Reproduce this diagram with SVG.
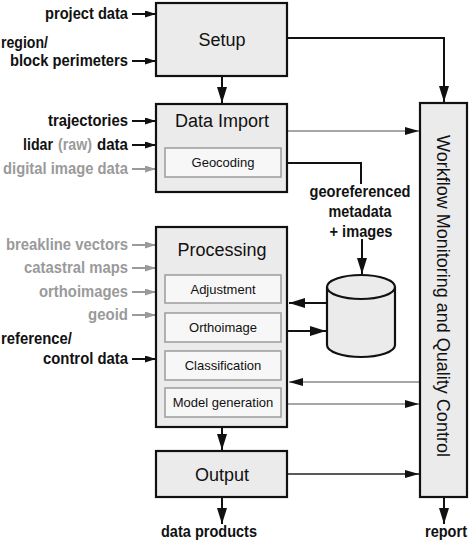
<svg xmlns="http://www.w3.org/2000/svg" width="474" height="542" viewBox="0 0 474 542">
<style>
.box{fill:#ebebeb;stroke:#111;stroke-width:2.2}
.sub{fill:#f7f7f7;stroke:#a0a0a0;stroke-width:1.6}
.cyl{fill:#ebebeb;stroke:#111;stroke-width:2.2}
.title{font-family:"Liberation Sans",Arial,sans-serif;font-size:18px;fill:#111;text-anchor:middle}
.subt{font-family:"Liberation Sans",Arial,sans-serif;font-size:13px;fill:#111;text-anchor:middle}
.lab{font-family:"Liberation Sans",Arial,sans-serif;font-size:16.5px;font-weight:bold;fill:#111}
.g{fill:#9a9a9a}
.r{text-anchor:end}
.m{text-anchor:middle}
.k{stroke:#111;stroke-width:2;fill:none}
.kt{stroke:#222;stroke-width:1.4;fill:none}
.gr{stroke:#9a9a9a;stroke-width:2;fill:none}
.gl{stroke:#888;stroke-width:1.6;fill:none}
</style>
<defs>
<marker id="big" viewBox="0 0 16 10" refX="16" refY="5" markerWidth="16" markerHeight="10" markerUnits="userSpaceOnUse" orient="auto"><path d="M0,0 L16,5 L0,10 z" fill="#111"/></marker>
<marker id="med" viewBox="0 0 14 8" refX="14" refY="4" markerWidth="14" markerHeight="8" markerUnits="userSpaceOnUse" orient="auto"><path d="M0,0 L14,4 L0,8 z" fill="#111"/></marker>
<marker id="sk" viewBox="0 0 11 7" refX="11" refY="3.5" markerWidth="11" markerHeight="7" markerUnits="userSpaceOnUse" orient="auto"><path d="M0,0 L11,3.5 L0,7 z" fill="#111"/></marker>
<marker id="sg" viewBox="0 0 11 7" refX="11" refY="3.5" markerWidth="11" markerHeight="7" markerUnits="userSpaceOnUse" orient="auto"><path d="M0,0 L11,3.5 L0,7 z" fill="#9a9a9a"/></marker>
</defs>

<g id="connectors">
  <line class="k" x1="132" y1="14" x2="156" y2="14" marker-end="url(#sk)"/>
  <line class="k" x1="132" y1="61" x2="156" y2="61" marker-end="url(#sk)"/>
  <line class="k" x1="132" y1="121" x2="156" y2="121" marker-end="url(#sk)"/>
  <line class="k" x1="132" y1="145" x2="156" y2="145" marker-end="url(#sk)"/>
  <line class="gr" x1="132" y1="169" x2="156" y2="169" marker-end="url(#sg)"/>
  <line class="gr" x1="132" y1="245" x2="156" y2="245" marker-end="url(#sg)"/>
  <line class="gr" x1="132" y1="268" x2="156" y2="268" marker-end="url(#sg)"/>
  <line class="gr" x1="132" y1="292" x2="156" y2="292" marker-end="url(#sg)"/>
  <line class="gr" x1="132" y1="315" x2="156" y2="315" marker-end="url(#sg)"/>
  <line class="k" x1="132" y1="359" x2="156" y2="359" marker-end="url(#sk)"/>
  <line class="k" x1="222" y1="77" x2="222" y2="103" marker-end="url(#big)"/>
  <line class="k" x1="222" y1="428" x2="222" y2="450" marker-end="url(#big)"/>
  <line class="k" x1="222" y1="498" x2="222" y2="524" marker-end="url(#big)"/>
  <polyline class="k" points="288,38 444,38 444,102" marker-end="url(#big)"/>
  <line class="k" x1="444" y1="498" x2="444" y2="524" marker-end="url(#big)"/>
  <line class="gl" x1="288" y1="131" x2="419" y2="131" marker-end="url(#med)"/>
  <line class="gl" x1="419" y1="382" x2="289" y2="382" marker-end="url(#med)"/>
  <line class="gl" x1="288" y1="404" x2="419" y2="404" marker-end="url(#med)"/>
  <line class="kt" x1="288" y1="474" x2="419" y2="474" marker-end="url(#med)"/>
  <polyline class="k" points="282,163 361,163 361,184"/>
  <line class="k" x1="362" y1="239" x2="362" y2="274" marker-end="url(#big)"/>
  <line class="k" x1="327" y1="303" x2="289" y2="303" marker-end="url(#big)"/>
  <line class="k" x1="288" y1="331" x2="326" y2="331" marker-end="url(#big)"/>
</g>

<g id="labels">
  <text class="lab r" x="128" y="19" textLength="83" lengthAdjust="spacingAndGlyphs">project data</text>
  <text class="lab" x="1" y="48" textLength="47" lengthAdjust="spacingAndGlyphs">region/</text>
  <text class="lab r" x="128" y="66" textLength="118" lengthAdjust="spacingAndGlyphs">block perimeters</text>
  <text class="lab r" x="128" y="126" textLength="80" lengthAdjust="spacingAndGlyphs">trajectories</text>
  <text class="lab" x="23" y="150" textLength="30" lengthAdjust="spacingAndGlyphs">lidar</text>
  <text class="lab g" x="58" y="150" textLength="34" lengthAdjust="spacingAndGlyphs">(raw)</text>
  <text class="lab r" x="128" y="150" textLength="31" lengthAdjust="spacingAndGlyphs">data</text>
  <text class="lab r g" x="128" y="174" textLength="125" lengthAdjust="spacingAndGlyphs">digital image data</text>
  <text class="lab r g" x="128" y="250" textLength="122" lengthAdjust="spacingAndGlyphs">breakline vectors</text>
  <text class="lab r g" x="128" y="273" textLength="104" lengthAdjust="spacingAndGlyphs">catastral maps</text>
  <text class="lab r g" x="128" y="297" textLength="89" lengthAdjust="spacingAndGlyphs">orthoimages</text>
  <text class="lab r g" x="128" y="320" textLength="40" lengthAdjust="spacingAndGlyphs">geoid</text>
  <text class="lab" x="1" y="344" textLength="71" lengthAdjust="spacingAndGlyphs">reference/</text>
  <text class="lab r" x="128" y="364" textLength="85" lengthAdjust="spacingAndGlyphs">control data</text>
  <text class="lab m" x="209" y="537" textLength="96" lengthAdjust="spacingAndGlyphs">data products</text>
  <text class="lab m" x="446" y="537" textLength="42" lengthAdjust="spacingAndGlyphs">report</text>
  <text class="lab m" x="360" y="197" textLength="101" lengthAdjust="spacingAndGlyphs">georeferenced</text>
  <text class="lab m" x="360" y="217" textLength="63" lengthAdjust="spacingAndGlyphs">metadata</text>
  <text class="lab m" x="361" y="237" textLength="63" lengthAdjust="spacingAndGlyphs">+ images</text>
</g>

<g id="setup">
  <rect class="box" x="156" y="3" width="131" height="73"/>
  <text class="title" x="222" y="46">Setup</text>
</g>

<g id="data-import">
  <rect class="box" x="156" y="104" width="131" height="88"/>
  <text class="title" x="222" y="127">Data Import</text>
  <g id="geocoding">
    <rect class="sub" x="165" y="148" width="116" height="29"/>
    <text class="subt" x="223" y="167">Geocoding</text>
  </g>
</g>

<g id="processing">
  <rect class="box" x="156" y="227" width="131" height="200"/>
  <text class="title" x="222" y="256">Processing</text>
  <g id="adjustment">
    <rect class="sub" x="165" y="275" width="116" height="28"/>
    <text class="subt" x="223" y="294">Adjustment</text>
  </g>
  <g id="orthoimage">
    <rect class="sub" x="165" y="313" width="116" height="29"/>
    <text class="subt" x="223" y="332">Orthoimage</text>
  </g>
  <g id="classification">
    <rect class="sub" x="165" y="351" width="116" height="29"/>
    <text class="subt" x="223" y="370">Classification</text>
  </g>
  <g id="model-generation">
    <rect class="sub" x="165" y="388" width="116" height="29"/>
    <text class="subt" x="223" y="407">Model generation</text>
  </g>
</g>

<g id="output">
  <rect class="box" x="156" y="451" width="131" height="46"/>
  <text class="title" x="222" y="481">Output</text>
</g>

<g id="database">
  <path class="cyl" d="M327,287 L327,345 A34,12 0 0 0 395,345 L395,287"/>
  <ellipse class="cyl" cx="361" cy="287" rx="34" ry="12"/>
</g>

<g id="workflow">
  <rect class="box" x="420" y="103" width="47" height="394"/>
  <text class="title" transform="translate(443,296) rotate(90)" dy="0.35em">Workflow Monitoring and Quality Control</text>
</g>
</svg>
